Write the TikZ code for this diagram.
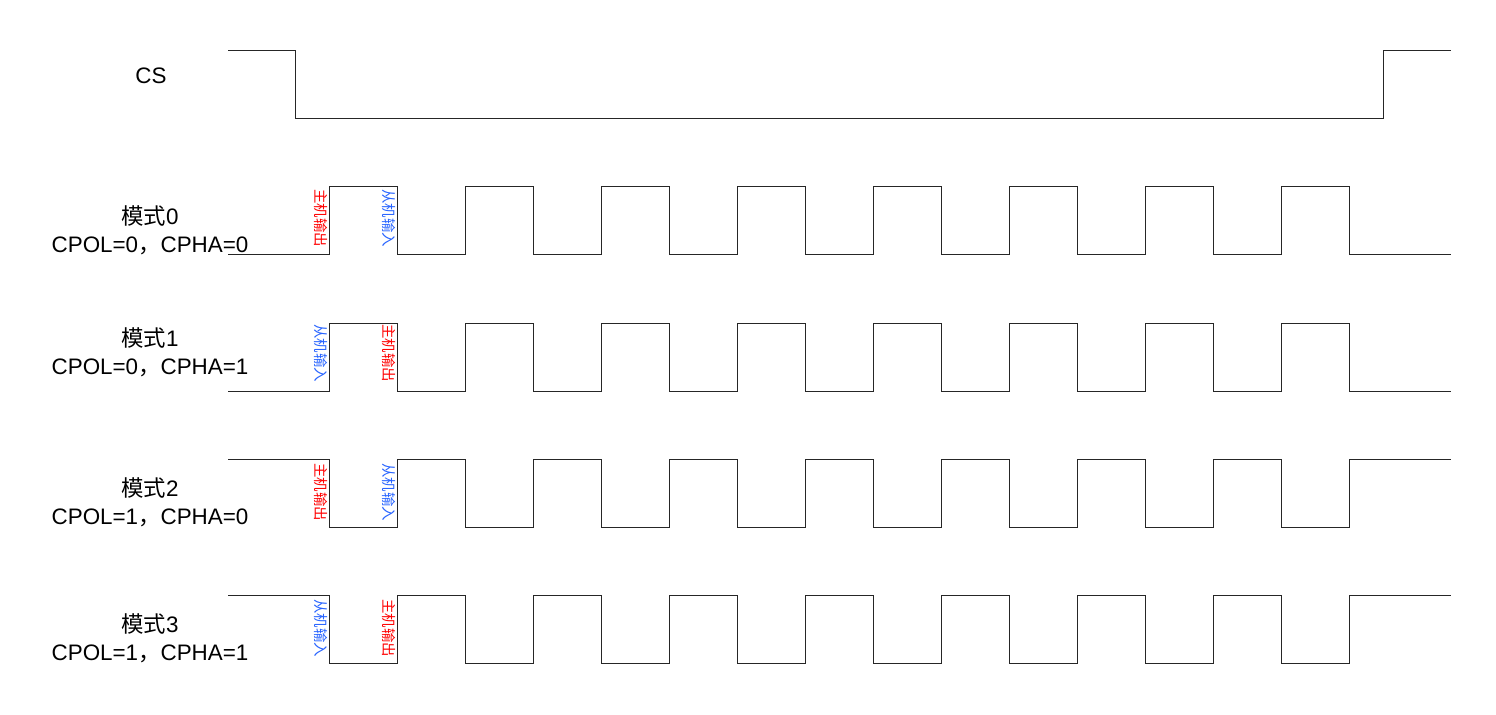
\documentclass[tikz,border=0pt]{standalone}
\usepackage{fontspec}
\setmainfont{Liberation Sans}
\newfontfamily\cjk{Noto Sans CJK SC}
\definecolor{outred}{RGB}{255,0,0}
\definecolor{inblue}{RGB}{40,100,255}
\begin{document}
\begin{tikzpicture}[x=0.5pt,y=-0.5pt,
  wave/.style={draw=black!85,line width=0.5pt},
  lbl/.style={align=center,font=\fontsize{11.2}{14}\selectfont,inner sep=0pt},
  vtxt/.style={rotate=-90,anchor=north,inner sep=0pt,font=\cjk\fontsize{7.2}{7.5}\selectfont},
  mo/.style={vtxt,text=outred},
  si/.style={vtxt,text=inblue}]
\useasboundingbox (0,0) rectangle (1496,714);
% CS
\node[lbl] (cs) at (151,76) {CS};
\draw[wave] (228,50) -- (295,50) -- (295,118) -- (1383,118) -- (1383,50) -- (1451,50);
% clocks: CPOL=0
\foreach \H/\L in {186/254,323/391}{
  \draw[wave] (228,\L) foreach \i in {0,...,7}{ -- ({329+136*\i},\L) -- ({329+136*\i},\H) -- ({397+136*\i},\H) -- ({397+136*\i},\L)} -- (1451,\L);
}
% clocks: CPOL=1
\foreach \H/\L in {459/527,595/663}{
  \draw[wave] (228,\H) foreach \i in {0,...,7}{ -- ({329+136*\i},\H) -- ({329+136*\i},\L) -- ({397+136*\i},\L) -- ({397+136*\i},\H)} -- (1451,\H);
}
% labels
\node[lbl] (m0) at (150,230) {{\cjk 模式}0\\CPOL=0{\cjk ，}CPHA=0};
\node[lbl] (m1) at (150,352) {{\cjk 模式}1\\CPOL=0{\cjk ，}CPHA=1};
\node[lbl] (m2) at (150,502) {{\cjk 模式}2\\CPOL=1{\cjk ，}CPHA=0};
\node[lbl] (m3) at (150,638) {{\cjk 模式}3\\CPOL=1{\cjk ，}CPHA=1};
% edge annotations
\node[mo] (a0) at (328,218) {主机输出};
\node[si] (b0) at (396,218) {从机输入};
\node[si] (a1) at (328,353) {从机输入};
\node[mo] (b1) at (396,353) {主机输出};
\node[mo] (a2) at (328,492) {主机输出};
\node[si] (b2) at (396,492) {从机输入};
\node[si] (a3) at (328,628) {从机输入};
\node[mo] (b3) at (396,628) {主机输出};
\end{tikzpicture}
\end{document}
